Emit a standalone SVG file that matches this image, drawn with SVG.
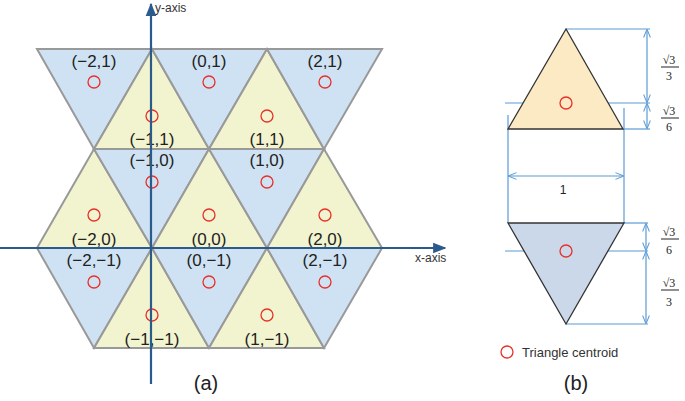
<svg xmlns="http://www.w3.org/2000/svg" width="685" height="401" viewBox="0 0 685 401">
<style>
.d{fill:#cfe2f3;stroke:#999;stroke-width:2}
.u{fill:#f2f4cf;stroke:#999;stroke-width:2}
.c{fill:none;stroke:#e8302a;stroke-width:1.3}
.t{font-family:"Liberation Sans",Arial,sans-serif;font-size:17px;fill:#222;text-anchor:middle}
.ax{stroke:#2b5b8c;stroke-width:2.2;fill:none}
.dm{stroke:#5b9bd5;stroke-width:1.2;fill:none}
.f{font-family:"Liberation Serif",serif;font-size:12px;fill:#222;text-anchor:middle}
</style>
<defs>
<marker id="a" viewBox="0 0 10 10" refX="9" refY="5" markerWidth="6" markerHeight="6" orient="auto"><path d="M0,1L10,5L0,9z" fill="#2b5b8c"/></marker>
<marker id="h" viewBox="0 0 10 10" refX="9" refY="5" markerWidth="7" markerHeight="7" orient="auto-start-reverse"><path d="M0,1L10,5L0,9" fill="none" stroke="#5b9bd5" stroke-width="1.2"/></marker>
</defs>
<g id="tri">
<polygon class="d" points="37,49 152,49 94,149"/>
<polygon class="u" points="94,149 152,49 209,149"/>
<polygon class="d" points="152,49 267,49 209,149"/>
<polygon class="u" points="209,149 267,49 324,149"/>
<polygon class="d" points="267,49 382,49 324,149"/>
<polygon class="u" points="37,248 94,149 152,248"/>
<polygon class="d" points="94,149 209,149 152,248"/>
<polygon class="u" points="152,248 209,149 267,248"/>
<polygon class="d" points="209,149 324,149 267,248"/>
<polygon class="u" points="267,248 324,149 382,248"/>
<polygon class="d" points="37,248 152,248 94,348"/>
<polygon class="u" points="94,348 152,248 209,348"/>
<polygon class="d" points="152,248 267,248 209,348"/>
<polygon class="u" points="209,348 267,248 324,348"/>
<polygon class="d" points="267,248 382,248 324,348"/>
</g>
<g id="centroids">
<circle class="c" cx="94" cy="82" r="6"/><circle class="c" cx="209" cy="82" r="6"/><circle class="c" cx="325" cy="82" r="6"/>
<circle class="c" cx="152" cy="116" r="6"/><circle class="c" cx="267" cy="116" r="6"/>
<circle class="c" cx="152" cy="182" r="6"/><circle class="c" cx="267" cy="182" r="6"/>
<circle class="c" cx="94" cy="215" r="6"/><circle class="c" cx="209" cy="215" r="6"/><circle class="c" cx="325" cy="215" r="6"/>
<circle class="c" cx="94" cy="282" r="6"/><circle class="c" cx="209" cy="282" r="6"/><circle class="c" cx="325" cy="282" r="6"/>
<circle class="c" cx="152" cy="315" r="6"/><circle class="c" cx="267" cy="315" r="6"/>
</g>
<g id="labels">
<text class="t" x="94" y="67">(−2,1)</text><text class="t" x="209" y="67">(0,1)</text><text class="t" x="325" y="67">(2,1)</text>
<text class="t" x="152" y="145">(−1,1)</text><text class="t" x="267" y="145">(1,1)</text>
<text class="t" x="152" y="166">(−1,0)</text><text class="t" x="267" y="166">(1,0)</text>
<text class="t" x="94" y="245">(−2,0)</text><text class="t" x="209" y="245">(0,0)</text><text class="t" x="325" y="245">(2,0)</text>
<text class="t" x="94" y="266">(−2,−1)</text><text class="t" x="209" y="266">(0,−1)</text><text class="t" x="325" y="266">(2,−1)</text>
<text class="t" x="152" y="345">(−1,−1)</text><text class="t" x="267" y="345">(1,−1)</text>
</g>
<g id="connectors">
<line class="ax" x1="151" y1="384" x2="151" y2="4" marker-end="url(#a)"/>
<line class="ax" x1="0" y1="248" x2="445" y2="248" marker-end="url(#a)"/>
<line class="dm" x1="505" y1="103" x2="650" y2="103"/>
<line class="dm" x1="505" y1="251" x2="648" y2="251"/>
<line class="dm" x1="508" y1="115" x2="508" y2="223"/>
<line class="dm" x1="624" y1="108" x2="624" y2="223"/>
<line class="dm" x1="509" y1="176" x2="623" y2="176" marker-start="url(#h)" marker-end="url(#h)"/>
<line class="dm" x1="566" y1="29" x2="650" y2="29"/>
<line class="dm" x1="623" y1="129" x2="650" y2="129"/>
<line class="dm" x1="647" y1="30" x2="647" y2="102" marker-start="url(#h)" marker-end="url(#h)"/>
<line class="dm" x1="647" y1="104" x2="647" y2="128" marker-start="url(#h)" marker-end="url(#h)"/>
<line class="dm" x1="624" y1="223" x2="648" y2="223"/>
<line class="dm" x1="566" y1="324" x2="648" y2="324"/>
<line class="dm" x1="646" y1="224" x2="646" y2="250" marker-start="url(#h)" marker-end="url(#h)"/>
<line class="dm" x1="646" y1="252" x2="646" y2="323" marker-start="url(#h)" marker-end="url(#h)"/>
</g>
<text x="155" y="12" font-family="Liberation Sans,Arial,sans-serif" font-size="12" fill="#333">y-axis</text>
<text x="415" y="262" font-family="Liberation Sans,Arial,sans-serif" font-size="12" fill="#333">x-axis</text>
<text class="t" x="206" y="390" font-size="20" style="font-size:20px">(a)</text>
<g id="b-up">
<polygon points="508,129 566,29 623,129" fill="#fbeac4" stroke="#333" stroke-width="1.3"/>
<circle class="c" cx="566" cy="103" r="6"/>
</g>
<g id="b-down">
<polygon points="508,223 624,223 566,324" fill="#cad8ea" stroke="#333" stroke-width="1.3"/>
<circle class="c" cx="566" cy="251" r="6"/>
</g>
<text x="563" y="194" font-family="Liberation Sans,Arial,sans-serif" font-size="12" fill="#222" text-anchor="middle">1</text>
<g id="fractions">
<text class="f" x="669" y="64">√3</text><line x1="661" y1="67" x2="679" y2="67" stroke="#222"/><text class="f" x="669" y="80">3</text>
<text class="f" x="669" y="115">√3</text><line x1="661" y1="118" x2="679" y2="118" stroke="#222"/><text class="f" x="669" y="131">6</text>
<text class="f" x="669" y="236">√3</text><line x1="661" y1="239" x2="679" y2="239" stroke="#222"/><text class="f" x="669" y="254">6</text>
<text class="f" x="669" y="287">√3</text><line x1="661" y1="290" x2="679" y2="290" stroke="#222"/><text class="f" x="669" y="306">3</text>
</g>
<g id="legend">
<circle class="c" cx="507" cy="352" r="6"/>
<text x="522" y="357" font-family="Liberation Sans,Arial,sans-serif" font-size="13" fill="#333">Triangle centroid</text>
</g>
<text class="t" x="576" y="390" style="font-size:20px">(b)</text>
</svg>
